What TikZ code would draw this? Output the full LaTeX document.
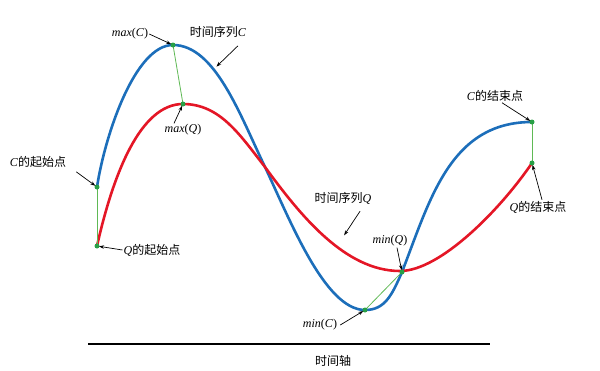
\documentclass[tikz,border=0pt]{standalone}
\usepackage{fontspec}
\setmainfont{Liberation Serif}
\newfontfamily\cjk{Noto Sans CJK SC}
\usetikzlibrary{arrows.meta}
\newcommand{\zh}[1]{{\cjk #1}}

\definecolor{curveC}{RGB}{28,110,186}
\definecolor{curveQ}{RGB}{228,22,38}
\definecolor{matchline}{RGB}{95,185,85}
\definecolor{matchdot}{RGB}{40,160,70}

\begin{document}
\begin{tikzpicture}[x=1pt, y=-1pt,
    seriesC/.style={line width=2.6pt, curveC},
    seriesQ/.style={line width=2.6pt, curveQ},
    match/.style={line width=0.8pt, matchline},
    dot/.style={circle, fill=matchdot, inner sep=0pt, minimum size=5pt},
    lbl/.style={font=\fontsize{12}{14}\selectfont, inner sep=1pt},
    arr/.style={-{Stealth[length=5pt,width=3.5pt]}, line width=0.7pt, shorten >=2pt}]
\useasboundingbox (0,0) rectangle (600,370);

% Draw the two series
\draw[seriesC] (97,187) .. controls (105,135) and (135,45) .. (173,45)
  .. controls (215,45) and (240,115) .. (265,167)
  .. controls (290,220) and (325,310) .. (365,310)
  .. controls (385,310) and (392,295) .. (402,272)
  .. controls (430,200) and (450,122) .. (532,122);
\draw[seriesQ] (97,246) .. controls (113,175) and (140,104) .. (183,104)
  .. controls (220,104) and (240,135) .. (265,167)
  .. controls (300,215) and (345,271) .. (400,271)
  .. controls (440,271) and (500,210) .. (532,163);

% Matched points
\coordinate (startC) at (97,187);
\coordinate (startQ) at (97,246);
\coordinate (maxC) at (173,45);
\coordinate (maxQ) at (183,104);
\coordinate (minC) at (365,310);
\coordinate (minQ) at (402,272);
\coordinate (endC) at (532,122);
\coordinate (endQ) at (532,163);
\coordinate (onC) at (215,68);
\coordinate (onQ) at (343,237);

\draw[match] (startC) -- (startQ);
\draw[match] (maxC) -- (maxQ);
\draw[match] (minC) -- (minQ);
\draw[match] (endC) -- (endQ);
\foreach \p in {startC,startQ,maxC,maxQ,minC,minQ,endC,endQ}
  \node[dot] at (\p) {};

% Labels
\node[lbl] (lmaxC) at (130,34) {\textit{max}(\textit{C})};
\node[lbl] (lserC) at (218,32) {\zh{时间序列}\textit{C}};
\node[lbl] (lmaxQ) at (183,130) {\textit{max}(\textit{Q})};
\node[lbl] (lstartC) at (38,162) {\textit{C}\zh{的起始点}};
\node[lbl] (lstartQ) at (152,250) {\textit{Q}\zh{的起始点}};
\node[lbl] (lserQ) at (343,198) {\zh{时间序列}\textit{Q}};
\node[lbl] (lminQ) at (390,241) {\textit{min}(\textit{Q})};
\node[lbl] (lminC) at (320,325) {\textit{min}(\textit{C})};
\node[lbl] (lendC) at (495,96) {\textit{C}\zh{的结束点}};
\node[lbl] (lendQ) at (538,207) {\textit{Q}\zh{的结束点}};

% Arrows from labels
\draw[arr] (lmaxC.east) -- (maxC);
\draw[arr] ([xshift=20pt,yshift=-7pt]lserC.south) -- (onC);
\draw[arr] ([xshift=-9pt]lmaxQ.north) -- (maxQ);
\draw[arr] ([xshift=9pt,yshift=-3pt]lstartC.south east) -- (startC);
\draw[arr] (lstartQ.west) -- (startQ);
\draw[arr] ([xshift=17pt,yshift=-6pt]lserQ.south) -- (onQ);
\draw[arr] ([xshift=7pt]lminQ.south) -- (minQ);
\draw[arr] ([xshift=2pt]lminC.east) -- (minC);
\draw[arr] ([xshift=7pt]lendC.south) -- (endC);
\draw[arr] ([xshift=4pt]lendQ.north) -- (endQ);

% Time axis
\coordinate (axL) at (88,344);
\coordinate (axR) at (490,344);
\draw[line width=1.2pt] (axL) -- (axR);
\node[lbl] (laxis) at (333,361) {\zh{时间轴}};
\end{tikzpicture}
\end{document}
